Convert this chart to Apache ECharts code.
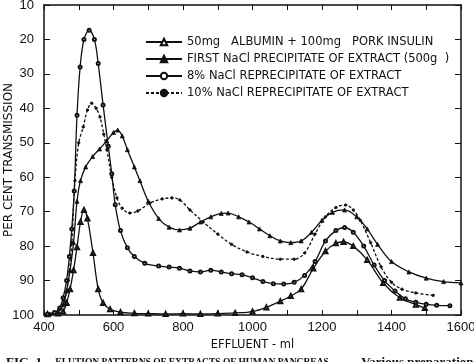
<!DOCTYPE html>
<html>
<head>
<meta charset="utf-8">
<script src="https://cdn.jsdelivr.net/npm/echarts@6/dist/echarts.min.js"></script>
<style>
  html, body { margin: 0; padding: 0; background: #fff; }
  #chart { width: 474px; height: 362px; }
</style>
</head>
<body>
<div id="chart"></div>
<script>
// effluent (ml) vs per cent transmission
var albumin = [
  [410, 99.8], [440, 99.6], [455, 99], [465, 96.5], [475, 92.5], [485, 87], [495, 80.3],
  [505, 73], [515, 69.5], [525, 72], [541, 82], [556, 92.5], [570, 96.5], [590, 98.3],
  [620, 99.2], [660, 99.5], [700, 99.6], [750, 99.7], [800, 99.6], [850, 99.7], [900, 99.6],
  [950, 99.4], [1000, 99], [1040, 97.8], [1080, 96], [1110, 94.5], [1140, 92.5], [1175, 86.5],
  [1210, 81.5], [1240, 79.2], [1262, 78.8], [1290, 80], [1330, 84], [1376, 90.7], [1424, 95],
  [1470, 97], [1496, 98]
];
var firstNaCl = [
  [415, 99.8], [440, 99], [455, 97], [465, 93], [475, 87], [485, 79], [495, 67], [505, 61],
  [520, 57], [540, 54], [560, 51.8], [580, 49.5], [600, 47], [612, 46.3], [625, 48], [640, 52],
  [660, 57], [676, 61], [700, 67], [730, 72], [760, 74.5], [790, 75.3], [820, 74.8], [850, 73],
  [880, 71.5], [910, 70.5], [930, 70.4], [960, 71.5], [990, 73], [1020, 75], [1050, 77],
  [1080, 78.5], [1110, 79], [1140, 78.5], [1170, 76], [1200, 72.5], [1230, 70.2], [1265, 69.5],
  [1300, 71.5], [1330, 75], [1360, 79.5], [1400, 84.5], [1450, 87.5], [1500, 89.3], [1550, 90.3],
  [1600, 90.7]
];
var nacl8 = [
  [410, 99.7], [430, 99.3], [445, 98], [455, 95], [465, 90], [473, 83], [480, 75], [487, 64],
  [495, 42], [504, 28], [515, 20], [530, 17.3], [545, 20], [556, 27], [570, 39], [585, 51],
  [595, 59], [605, 68], [620, 75.5], [640, 80.5], [660, 83], [690, 85], [730, 85.8], [760, 86.1],
  [790, 86.4], [820, 87.2], [850, 87.5], [880, 87], [910, 87.5], [940, 88], [970, 88.3],
  [1000, 89.2], [1030, 90.3], [1060, 90.9], [1090, 91], [1120, 90.5], [1150, 88.5], [1180, 84.5],
  [1210, 78.5], [1240, 75.5], [1265, 74.6], [1290, 76], [1320, 80], [1350, 85.5], [1380, 90],
  [1410, 93], [1440, 95.3], [1470, 96.3], [1500, 96.9], [1530, 97.2], [1568, 97.3]
];
var nacl10 = [
  [420, 99.7], [445, 98.5], [458, 96], [470, 90], [480, 79], [489, 61], [500, 50], [513, 45.4],
  [525, 40.5], [537, 38.5], [550, 40], [561, 42.5], [572, 47.5], [581, 52], [595, 60], [610, 66],
  [625, 69], [647, 70.4], [670, 69.8], [705, 67.5], [740, 66.3], [768, 66], [791, 66.6],
  [820, 69.5], [858, 73], [900, 76.5], [940, 79.5], [984, 81.7], [1030, 83], [1080, 83.8],
  [1120, 83.8], [1150, 82], [1180, 76.5], [1210, 71.5], [1240, 68.8], [1268, 68.1], [1290, 69.5],
  [1310, 72.5], [1340, 79], [1370, 86], [1400, 90.5], [1430, 92.5], [1470, 93.6], [1520, 94.3]
];
var names = [
  '50mg   ALBUMIN + 100mg   PORK INSULIN',
  'FIRST NaCl PRECIPITATE OF EXTRACT (500g  )',
  '8% NaCl REPRECIPITATE OF EXTRACT',
  '10% NaCl REPRECIPITATE OF EXTRACT'
];
var xRange = [400, 1600];
var yRange = [10, 100];

var ink = '#111';
var font = 'DejaVu Sans';
var tickFont = 'Liberation Sans';

function curve(name, data, symbol, size, dashed) {
  return {
    name: name,
    type: 'line',
    data: data,
    smooth: 0.35,
    symbol: symbol,
    symbolSize: size,
    showSymbol: true,
    animation: false,
    lineStyle: { color: ink, width: 1.3, type: dashed ? [3, 2] : 'solid' },
    itemStyle: { color: ink, borderColor: ink, borderWidth: 0.8 }
  };
}

var myChart = echarts.init(document.getElementById('chart'));
var option = {
  backgroundColor: '#fff',
  animation: false,
  title: {
    left: 1,
    top: 349,
    text: '{a|FIG. 1.}  {b|ELUTION PATTERNS OF EXTRACTS OF HUMAN PANCREAS.}      {a|Various preparations}',
    textStyle: {
      rich: {
        a: { fontFamily: 'Liberation Serif', fontSize: 13, color: ink },
        b: { fontFamily: 'Liberation Serif', fontSize: 9.5, color: ink }
      }
    }
  },
  legend: {
    orient: 'vertical',
    left: 140,
    top: 31,
    itemWidth: 36,
    itemHeight: 8,
    itemGap: 5,
    data: names,
    textStyle: { fontFamily: font, fontSize: 11.5, color: ink }
  },
  grid: {
    left: 44,
    right: 13,
    top: 5,
    bottom: 47,
    outerBoundsMode: 'none'
  },
  xAxis: [{
    type: 'value',
    min: xRange[0],
    max: xRange[1],
    interval: 200,
    name: 'EFFLUENT - ml',
    nameLocation: 'middle',
    nameGap: 19,
    nameTextStyle: { fontFamily: font, fontSize: 11.5, color: ink },
    axisLine: { lineStyle: { color: ink, width: 1.5 } },
    axisTick: { inside: true, length: 5, lineStyle: { color: ink } },
    minorTick: { show: true, splitNumber: 2, length: 5, lineStyle: { color: ink } },
    splitLine: { show: false },
    axisLabel: {
      fontFamily: tickFont, fontSize: 13, color: ink, margin: 6,
      formatter: function (v) { return String(v); }
    }
  }, {
    type: 'value',
    position: 'top',
    min: xRange[0],
    max: xRange[1],
    interval: 200,
    axisLine: { lineStyle: { color: ink, width: 1.5 } },
    axisTick: { inside: true, length: 5, lineStyle: { color: ink } },
    minorTick: { show: true, splitNumber: 2, length: 5, lineStyle: { color: ink } },
    splitLine: { show: false },
    axisLabel: { show: false }
  }],
  yAxis: [{
    type: 'value',
    inverse: true,
    min: yRange[0],
    max: yRange[1],
    interval: 10,
    name: 'PER CENT TRANSMISSION',
    nameLocation: 'middle',
    nameGap: 29,
    nameRotate: 90,
    nameMoveOverlap: false,
    nameTextStyle: { fontFamily: font, fontSize: 12, color: ink },
    axisLine: { lineStyle: { color: ink, width: 1.5 } },
    axisTick: { inside: true, length: 6, lineStyle: { color: ink } },
    splitLine: { show: false },
    axisLabel: { fontFamily: tickFont, fontSize: 13, color: ink, margin: 10 }
  }, {
    type: 'value',
    position: 'right',
    inverse: true,
    min: yRange[0],
    max: yRange[1],
    interval: 10,
    axisLine: { lineStyle: { color: ink, width: 1.5 } },
    axisTick: { inside: true, length: 6, lineStyle: { color: ink } },
    splitLine: { show: false },
    axisLabel: { show: false }
  }],
  series: [
    curve(names[0], albumin, 'emptyTriangle', 4, false),
    curve(names[1], firstNaCl, 'triangle', 4, false),
    curve(names[2], nacl8, 'emptyCircle', 3, false),
    curve(names[3], nacl10, 'circle', 2.5, true)
  ]
};
myChart.setOption(option);
</script>
</body>
</html>
